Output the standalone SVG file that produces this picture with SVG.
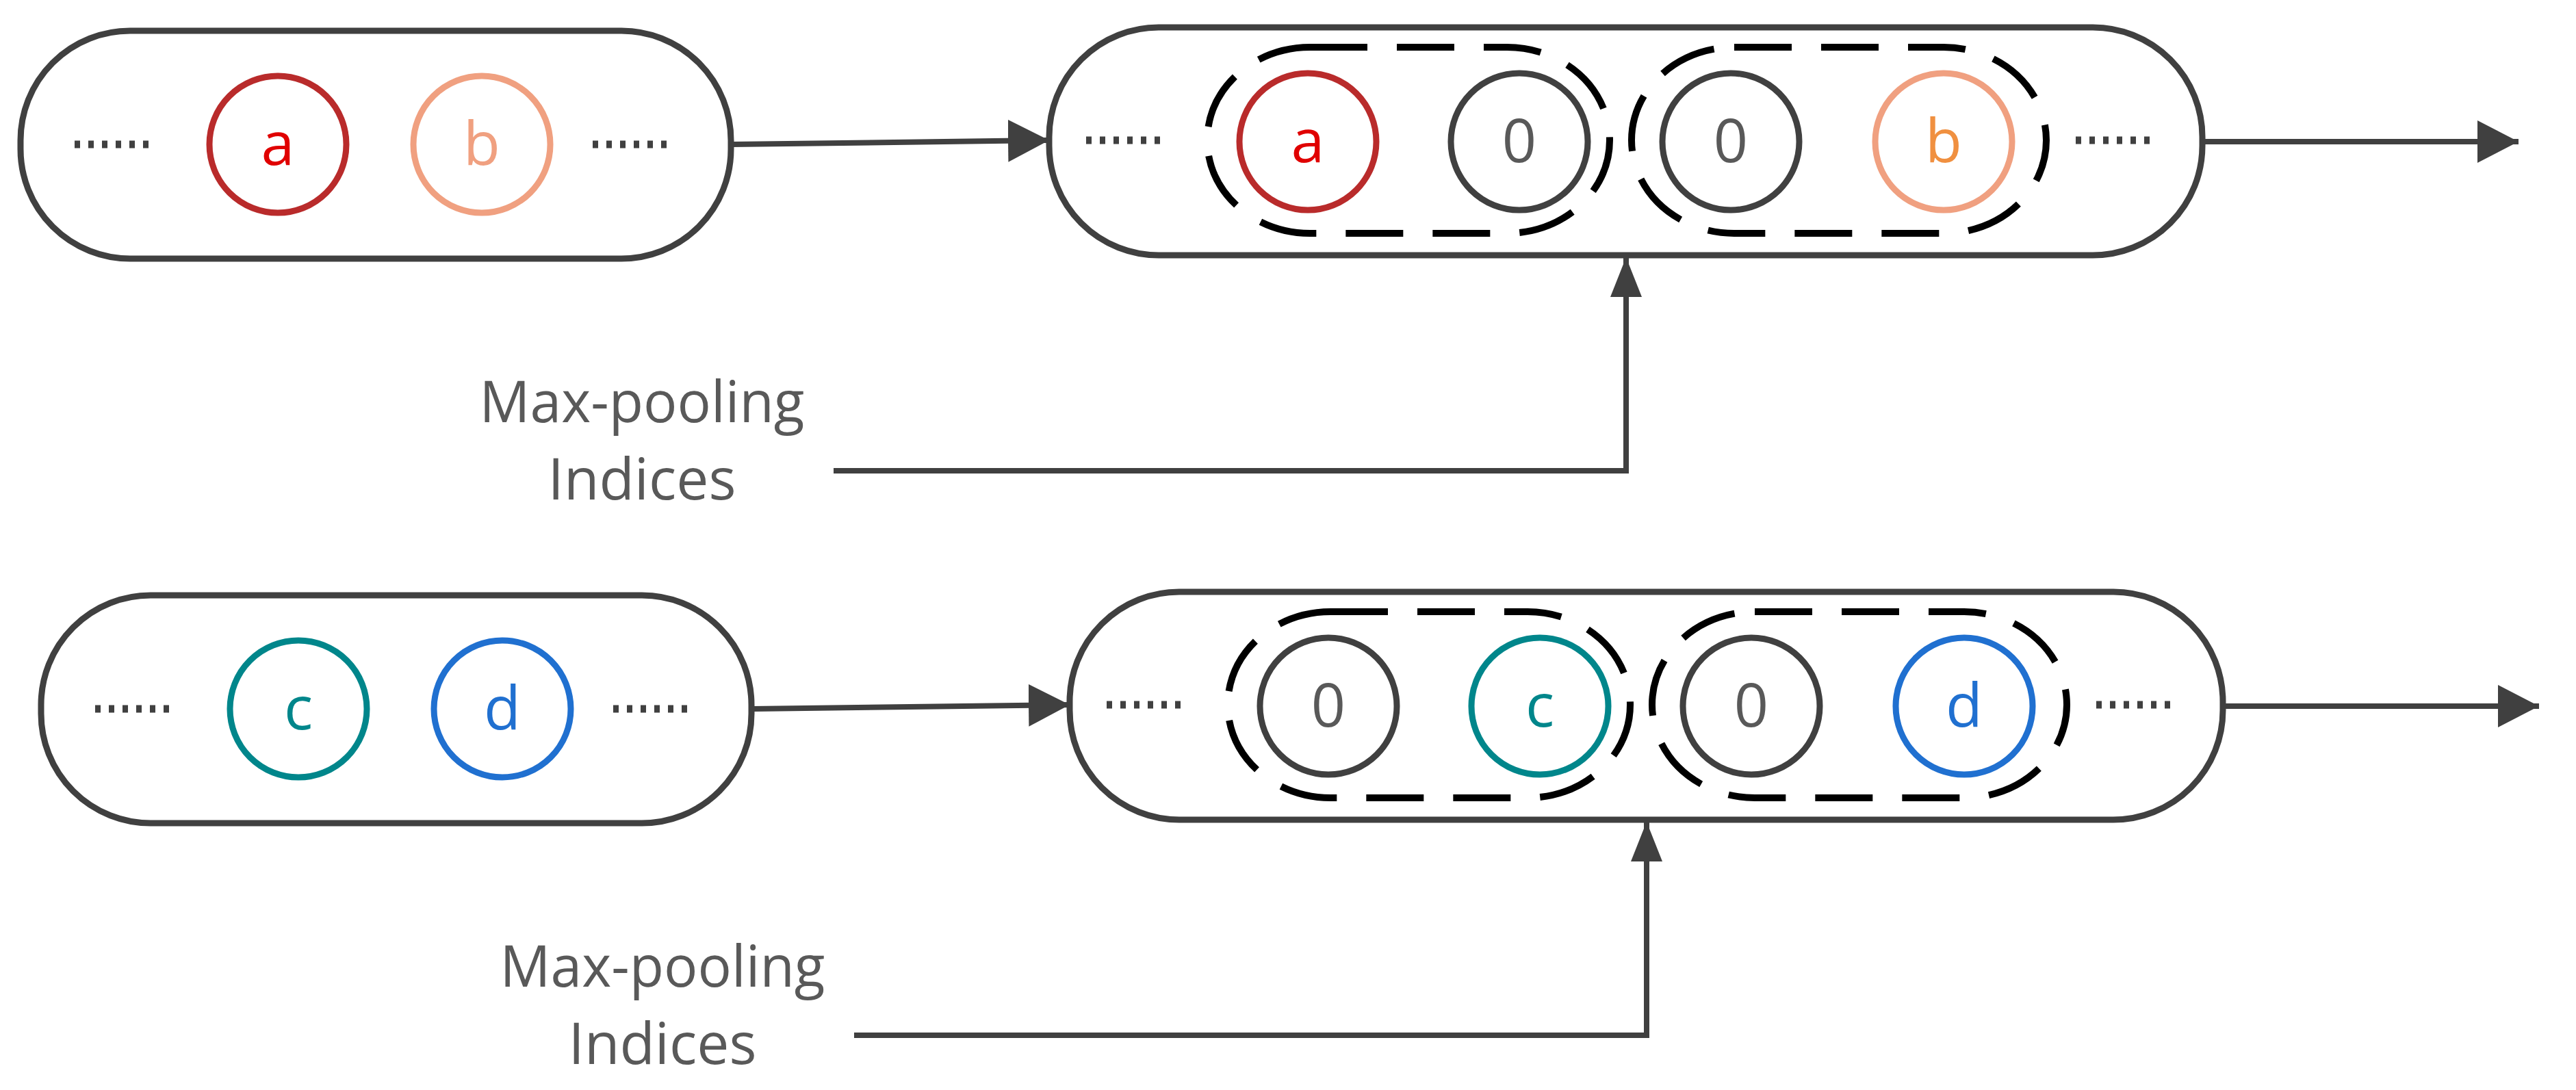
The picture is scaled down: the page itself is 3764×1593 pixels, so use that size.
<svg xmlns="http://www.w3.org/2000/svg" width="3764" height="1593" viewBox="0 0 3764 1593">
<style>
.box{fill:#fff;stroke:#404040;stroke-width:9}
.grp{fill:none;stroke:#000;stroke-width:10;stroke-dasharray:84 43}
.dots{stroke:#404040;stroke-width:11;stroke-dasharray:8 12}
.c{fill:#fff;stroke-width:9}
.t{font-family:"Open Sans","Liberation Sans",sans-serif;font-size:88px;text-anchor:middle}
.lab{font-family:"Open Sans","Liberation Sans",sans-serif;font-size:84px;fill:#595959;text-anchor:middle}
.ln{fill:none;stroke:#404040;stroke-width:8}
</style>
<defs>
<marker id="ah" markerUnits="userSpaceOnUse" markerWidth="62" markerHeight="62" refX="60" refY="31" orient="auto"><path d="M0,0 L60,31 L0,62 Z" fill="#404040"/></marker>
<marker id="av" markerUnits="userSpaceOnUse" markerWidth="60" markerHeight="50" refX="58" refY="25" orient="auto"><path d="M0,2 L58,25 L0,48 Z" fill="#404040"/></marker>
</defs>
<g id="input1">
<rect class="box" x="30" y="45" width="1038" height="333" rx="160" ry="160"/>
<line class="dots" x1="109" y1="211" x2="222" y2="211"/>
<line class="dots" x1="866" y1="211" x2="979" y2="211"/>
<circle class="c" cx="406" cy="211" r="100" stroke="#B92B2B"/>
<text class="t" x="406" y="241" fill="#E00000">a</text>
<circle class="c" cx="704" cy="211" r="100" stroke="#F0A080"/>
<text class="t" x="704" y="241" fill="#F0A080">b</text>
</g>
<g id="output1">
<rect class="box" x="1533" y="40" width="1685" height="333" rx="160" ry="160"/>
<line class="dots" x1="1587" y1="205" x2="1702" y2="205"/>
<line class="dots" x1="3033" y1="205" x2="3146" y2="205"/>
<rect class="grp" x="1764" y="69" width="588" height="272" rx="150" ry="136"/>
<rect class="grp" x="2384" y="69" width="606" height="272" rx="150" ry="136"/>
<circle class="c" cx="1911" cy="207" r="100" stroke="#B92B2B"/>
<text class="t" x="1911" y="237" fill="#E00000">a</text>
<circle class="c" cx="2220" cy="207" r="100" stroke="#404040"/>
<text class="t" x="2220" y="237" fill="#595959">0</text>
<circle class="c" cx="2529" cy="207" r="100" stroke="#404040"/>
<text class="t" x="2529" y="237" fill="#595959">0</text>
<circle class="c" cx="2840" cy="207" r="100" stroke="#F0A080"/>
<text class="t" x="2840" y="237" fill="#F09040">b</text>
</g>
<g id="label1">
<text class="lab" x="938" y="617" textLength="475" lengthAdjust="spacingAndGlyphs">Max-pooling</text>
<text class="lab" x="938" y="730">Indices</text>
</g>
<g id="input2">
<rect class="box" x="60" y="870" width="1038" height="333" rx="160" ry="160"/>
<line class="dots" x1="139" y1="1036" x2="252" y2="1036"/>
<line class="dots" x1="896" y1="1036" x2="1009" y2="1036"/>
<circle class="c" cx="436" cy="1036" r="100" stroke="#00868B"/>
<text class="t" x="436" y="1066" fill="#00868B">c</text>
<circle class="c" cx="734" cy="1036" r="100" stroke="#2070D0"/>
<text class="t" x="734" y="1066" fill="#2070D0">d</text>
</g>
<g id="output2">
<rect class="box" x="1563" y="865" width="1685" height="333" rx="160" ry="160"/>
<line class="dots" x1="1617" y1="1030" x2="1732" y2="1030"/>
<line class="dots" x1="3063" y1="1030" x2="3176" y2="1030"/>
<rect class="grp" x="1794" y="894" width="588" height="272" rx="150" ry="136"/>
<rect class="grp" x="2414" y="894" width="606" height="272" rx="150" ry="136"/>
<circle class="c" cx="1941" cy="1032" r="100" stroke="#404040"/>
<text class="t" x="1941" y="1062" fill="#595959">0</text>
<circle class="c" cx="2250" cy="1032" r="100" stroke="#00868B"/>
<text class="t" x="2250" y="1062" fill="#00868B">c</text>
<circle class="c" cx="2559" cy="1032" r="100" stroke="#404040"/>
<text class="t" x="2559" y="1062" fill="#595959">0</text>
<circle class="c" cx="2870" cy="1032" r="100" stroke="#2070D0"/>
<text class="t" x="2870" y="1062" fill="#2070D0">d</text>
</g>
<g id="label2">
<text class="lab" x="968" y="1442" textLength="475" lengthAdjust="spacingAndGlyphs">Max-pooling</text>
<text class="lab" x="968" y="1555">Indices</text>
</g>
<g id="connectors">
<line class="ln" x1="1070" y1="211" x2="1533" y2="205" marker-end="url(#ah)"/>
<line class="ln" x1="3220" y1="207" x2="3680" y2="207" marker-end="url(#ah)"/>
<path class="ln" d="M1218,688 H2376 V376" marker-end="url(#av)"/>
<line class="ln" x1="1100" y1="1036" x2="1563" y2="1030" marker-end="url(#ah)"/>
<line class="ln" x1="3250" y1="1032" x2="3710" y2="1032" marker-end="url(#ah)"/>
<path class="ln" d="M1248,1513 H2406 V1201" marker-end="url(#av)"/>
</g>
</svg>
